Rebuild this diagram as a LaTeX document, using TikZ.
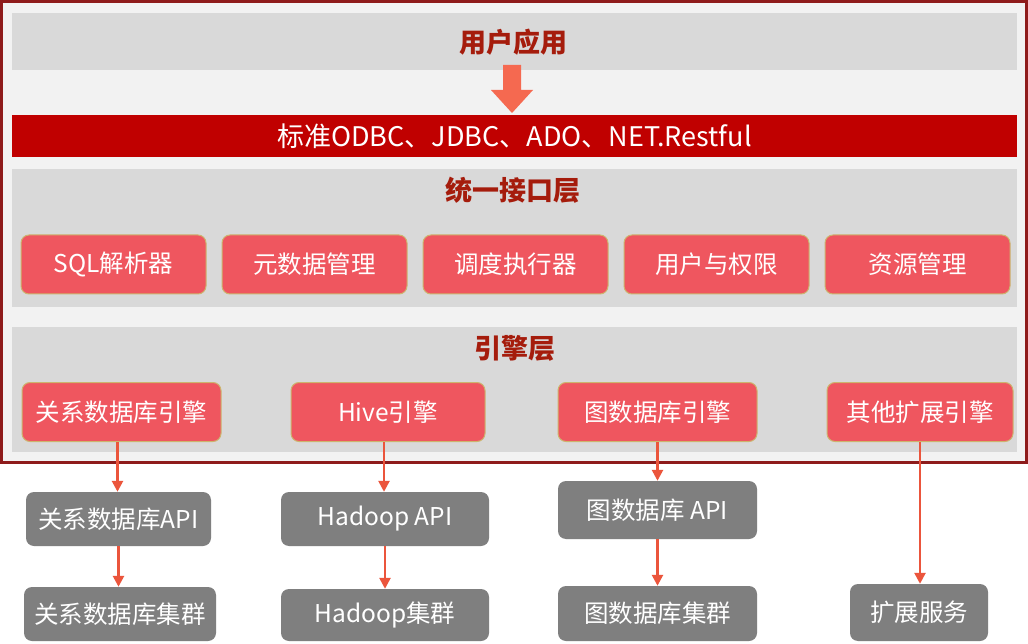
\documentclass[tikz,border=0pt]{standalone}
\usepackage{fontspec}
\setmainfont{Noto Sans CJK SC}
\usetikzlibrary{arrows.meta}
\definecolor{framered}{RGB}{142,27,27}
\definecolor{bggray}{RGB}{242,242,242}
\definecolor{bandgray}{RGB}{217,217,217}
\definecolor{titlered}{RGB}{165,28,12}
\definecolor{stdred}{RGB}{192,0,0}
\definecolor{boxred}{RGB}{239,86,95}
\definecolor{boxline}{RGB}{205,180,110}
\definecolor{boxgray}{RGB}{127,127,127}
\definecolor{arrred}{RGB}{235,85,60}
\definecolor{bigarr}{RGB}{245,105,80}
\begin{document}
\begin{tikzpicture}[x=1pt, y=-1pt]
\tikzstyle{band} = [rectangle, fill=bandgray, minimum width=1005pt, inner sep=0pt]
\tikzstyle{title} = [text=titlered, font=\fontsize{27}{32}\selectfont\bfseries]
\tikzstyle{redbox} = [rectangle, rounded corners=8pt, fill=boxred, draw=boxline, line width=1pt, text=white, font=\fontsize{24.5}{29}\selectfont, minimum height=59pt]
\tikzstyle{graybox} = [rectangle, rounded corners=8pt, fill=boxgray, text=white, font=\fontsize{24.5}{29}\selectfont, minimum height=54pt]
\tikzstyle{arr} = [draw=arrred, line width=2.5pt, -{Triangle[width=11pt,length=11pt]}]
\useasboundingbox (0,0) rectangle (1028,644);
\fill[white] (0,0) rectangle (1028,644);
\draw[framered, line width=3pt, fill=bggray] (1.5,1.5) rectangle (1026.5,462);
% user application
\node[band, minimum height=57pt] (app) at (514.5,41.5) {};
\node[title] (appt) at (513,42) {用户应用};
\node[band, fill=stdred, minimum height=42pt, text=white, font=\fontsize{27}{32}\selectfont] (std) at (514.5,136) {标准ODBC、JDBC、ADO、NET.Restful};
\fill[bigarr] (503,65) -- (521,65) -- (521,90) -- (533,90) -- (512,113) -- (491,90) -- (503,90) -- cycle;
% interface layer
\node[band, minimum height=138pt] (iface) at (514.5,238) {};
\node[title] (ifacet) at (513,190) {统一接口层};
\foreach \name/\x/\txt in {sql/113.5/SQL解析器, meta/314.5/元数据管理, sched/515.5/调度执行器, user/716.5/用户与权限, res/917.5/资源管理}
\node[redbox, minimum width=185pt] (\name) at (\x,264.5) {\txt};
% engine layer
\node[band, minimum height=125pt] (eng) at (514.5,389.5) {};
\node[title] (engt) at (515,348) {引擎层};
\node[redbox, minimum width=199pt] (rel) at (121.5,412) {关系数据库引擎};
\node[redbox, minimum width=194pt] (hive) at (388,412) {Hive引擎};
\node[redbox, minimum width=199pt] (graph) at (657.5,412) {图数据库引擎};
\node[redbox, minimum width=186pt] (ext) at (920,412) {其他扩展引擎};
% apis and clusters
\node[graybox, minimum width=185pt] (relapi) at (118.5,519) {关系数据库API};
\node[graybox, minimum width=208pt] (hadoopapi) at (385,519) {Hadoop API};
\node[graybox, minimum width=199pt, minimum height=58pt] (graphapi) at (657.5,510) {图数据库 API};
\node[graybox, minimum width=192pt] (relclu) at (120,614) {关系数据库集群};
\node[graybox, minimum width=208pt, minimum height=52pt] (hadoopclu) at (385,615) {Hadoop集群};
\node[graybox, minimum width=199pt, minimum height=55pt] (graphclu) at (657.5,613.5) {图数据库集群};
\node[graybox, minimum width=138pt, minimum height=57pt] (extsvc) at (919,612.5) {扩展服务};
\foreach \from/\to in {relapi/relclu, hadoopapi/hadoopclu, graphapi/graphclu}
\draw[arr] (\from) -- (\from |- \to.north);
\foreach \from/\to/\dx in {rel/relapi/-4, hive/hadoopapi/-4, graph/graphapi/0, ext/extsvc/0}
\draw[arr] ([xshift=\dx pt]\from.south) -- ([xshift=\dx pt]\from.south |- \to.north);
\end{tikzpicture}
\end{document}
